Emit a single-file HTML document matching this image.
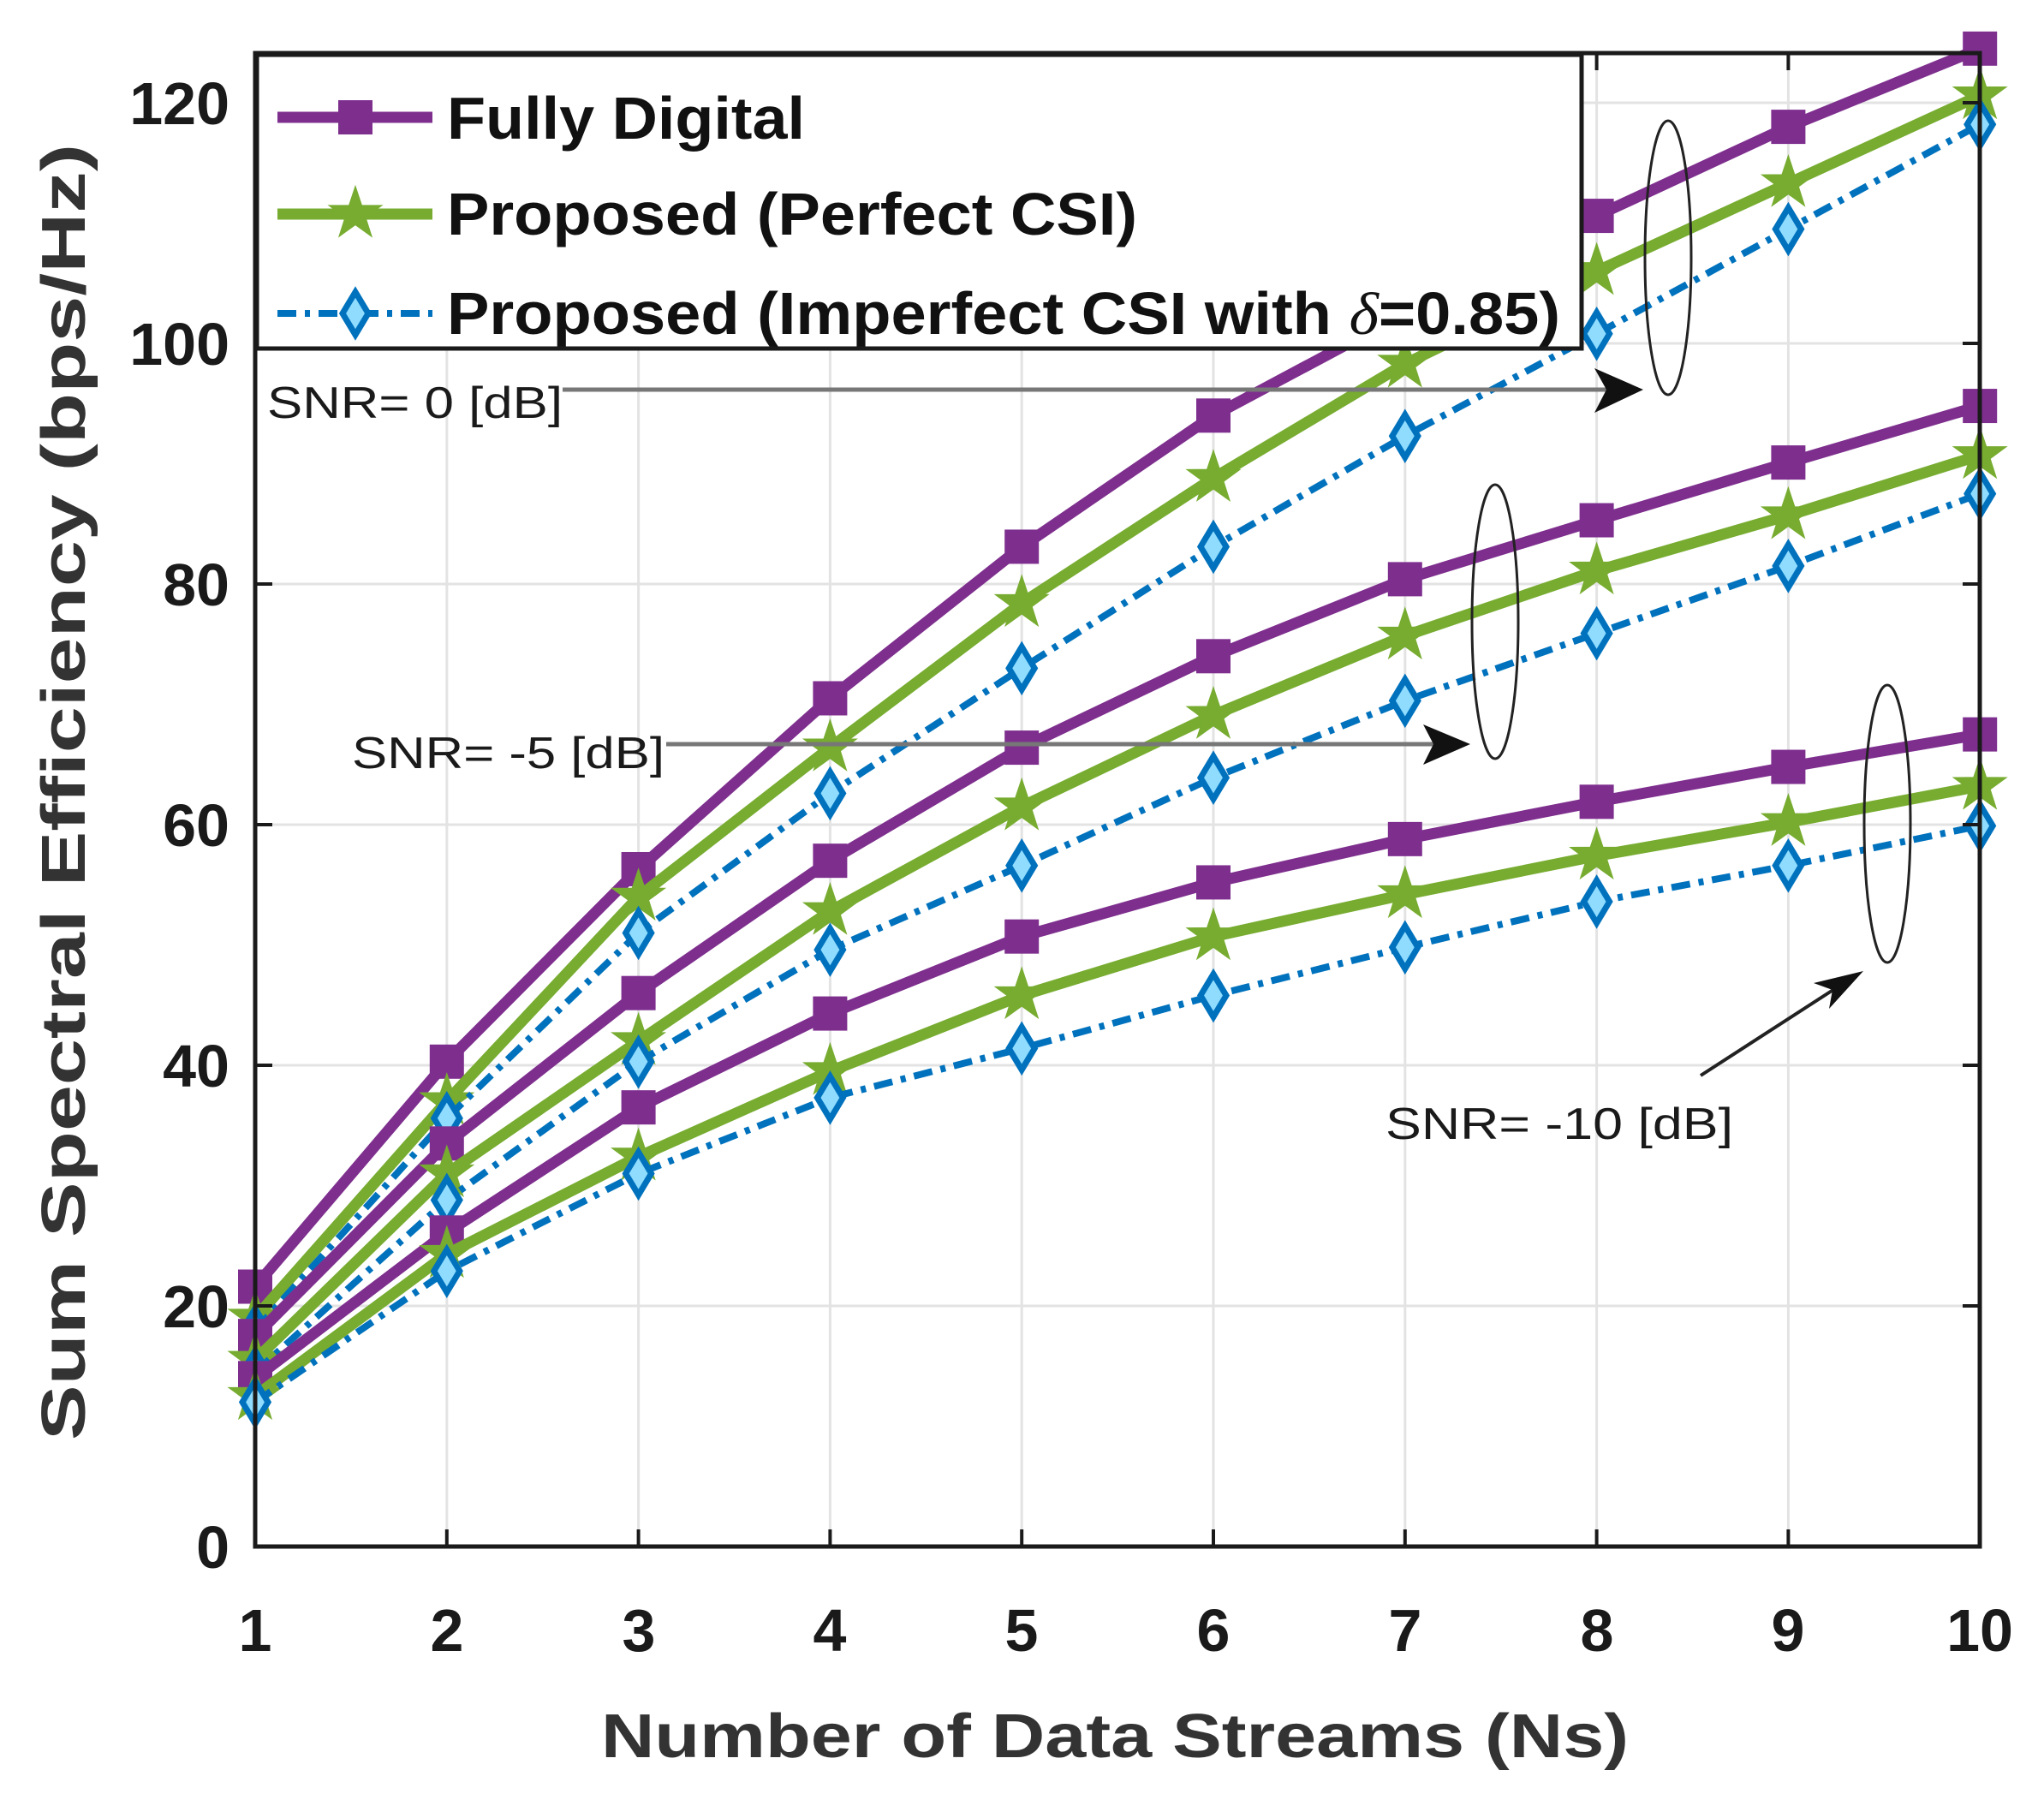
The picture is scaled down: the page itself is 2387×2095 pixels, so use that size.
<!DOCTYPE html>
<html><head><meta charset="utf-8"><style>html,body{margin:0;padding:0;background:#fff}svg{display:block}</style></head>
<body>
<svg id="s" width="2387" height="2095" viewBox="0 0 2387 2095" xmlns="http://www.w3.org/2000/svg">
<rect width="2387" height="2095" fill="#fff"/>
<g id="grid" stroke="#e3e3e3" stroke-width="3"></g>
<g id="series"></g>
<rect x="298" y="62" width="2014" height="1744" fill="none" stroke="#1a1a1a" stroke-width="5"/>
<g id="ticks" stroke="#1a1a1a" stroke-width="4"></g>
<g font-family="'Liberation Sans', sans-serif" font-weight="bold" font-size="70" fill="#1a1a1a" text-anchor="end">
<text x="268" y="1831">0</text>
<text x="268" y="1550">20</text>
<text x="268" y="1269">40</text>
<text x="268" y="988">60</text>
<text x="268" y="707">80</text>
<text x="268" y="426">100</text>
<text x="268" y="145">120</text>
</g>
<g font-family="'Liberation Sans', sans-serif" font-weight="bold" font-size="70" fill="#1a1a1a" text-anchor="middle">
<text x="298" y="1928">1</text>
<text x="522" y="1928">2</text>
<text x="746" y="1928">3</text>
<text x="969" y="1928">4</text>
<text x="1193" y="1928">5</text>
<text x="1417" y="1928">6</text>
<text x="1641" y="1928">7</text>
<text x="1865" y="1928">8</text>
<text x="2088" y="1928">9</text>
<text x="2312" y="1928">10</text>
</g>
<text x="1302" y="2052" font-family="'Liberation Sans', sans-serif" font-weight="bold" font-size="72" fill="#333" text-anchor="middle" textLength="1200" lengthAdjust="spacingAndGlyphs">Number of Data Streams (Ns)</text>
<text transform="translate(99,925) rotate(-90)" x="0" y="0" font-family="'Liberation Sans', sans-serif" font-weight="bold" font-size="72" fill="#333" text-anchor="middle" textLength="1514" lengthAdjust="spacingAndGlyphs">Sum Spectral Efficiency (bps/Hz)</text>

<g font-family="'Liberation Sans', sans-serif" font-size="52" fill="#1a1a1a">
<text x="312" y="488" textLength="345" lengthAdjust="spacingAndGlyphs">SNR= 0 [dB]</text>
<text x="411" y="897" textLength="365" lengthAdjust="spacingAndGlyphs">SNR= -5 [dB]</text>
<text x="1618" y="1330" textLength="406" lengthAdjust="spacingAndGlyphs">SNR= -10 [dB]</text>
</g>
<g stroke="#777" stroke-width="5">
<line x1="657" y1="455" x2="1880" y2="455"/>
<line x1="778" y1="869" x2="1685" y2="869"/>
</g>
<line x1="1986" y1="1256" x2="2150" y2="1150" stroke="#222" stroke-width="4"/>
<g fill="#111">
<polygon points="1919,455 1862,430 1876,455 1862,482"/>
<polygon points="1717,869 1662,846 1674,869 1662,893"/>
<polygon points="2176,1134 2118,1148 2140,1156 2136,1178"/>
</g>
<g fill="none" stroke="#222" stroke-width="3">
<ellipse cx="1948" cy="301" rx="27" ry="160"/>
<ellipse cx="1746" cy="726" rx="27" ry="160"/>
<ellipse cx="2204" cy="962" rx="27" ry="162"/>
</g>

<rect x="300" y="64" width="1547" height="343" fill="#fff" stroke="#1a1a1a" stroke-width="5"/>
<g id="leg"></g>
<g font-family="'Liberation Sans', sans-serif" font-weight="bold" font-size="70" fill="#111">
<text x="522" y="162" textLength="418" lengthAdjust="spacingAndGlyphs">Fully Digital</text>
<text x="522" y="274" textLength="806" lengthAdjust="spacingAndGlyphs">Proposed (Perfect CSI)</text>
<text x="522" y="390" textLength="1300" lengthAdjust="spacingAndGlyphs">Proposed (Imperfect CSI with <tspan font-family="'Liberation Serif', serif" font-style="italic" font-weight="normal">δ</tspan>=0.85)</text>
</g>
</svg>
<script>
const NS="http://www.w3.org/2000/svg";
const X=x=>298+(x-1)*223.8, Y=y=>1806-y*14.05;
function el(t,a,p){const e=document.createElementNS(NS,t);for(const k in a)e.setAttribute(k,a[k]);p.appendChild(e);return e;}
const grid=document.getElementById('grid'),ticks=document.getElementById('ticks');
for(let i=2;i<=9;i++){el('line',{x1:X(i),y1:62,x2:X(i),y2:1806},grid);el('line',{x1:X(i),y1:1806,x2:X(i),y2:1786},ticks);el('line',{x1:X(i),y1:62,x2:X(i),y2:82},ticks);}
for(let v=20;v<=120;v+=20){el('line',{x1:298,y1:Y(v),x2:2312,y2:Y(v)},grid);el('line',{x1:298,y1:Y(v),x2:318,y2:Y(v)},ticks);el('line',{x1:2312,y1:Y(v),x2:2292,y2:Y(v)},ticks);}
const PUR="#7E2F8E",GRN="#77AC30",BLU="#0072BD";
const data=[
 [[21.6,40.3,56.3,70.5,83.1,94,102.5,110.6,118,124.5],[19,37,54,66.4,78.4,88.8,98.3,106,113.3,120.6],[18,35.6,51,62.6,73,83.1,92.3,100.8,109.5,118.2]],
 [[17.5,33.5,46,57,66.4,74,80.4,85.3,90.1,94.8],[15.5,31,42,52.8,61.5,69.1,75.7,81.1,85.7,90.7],[14.5,28.8,40.3,49.6,56.6,63.9,70.3,75.9,81.5,87.5]],
 [[14,26.1,36.5,44.3,50.7,55.2,58.8,61.9,64.8,67.5],[12.5,24.3,32.4,39.5,45.8,50.7,54.2,57.4,60.2,63.2],[12,22.9,31,37.3,41.4,45.8,49.8,53.6,56.6,59.9]]];
const S=document.getElementById('series');
function sq(x,y,p){el('rect',{x:x-19,y:y-19,width:38,height:38,fill:PUR,stroke:PUR,'stroke-width':2},p);}
function star(x,y,p){let pts=[];for(let i=0;i<10;i++){const r=i%2?12:31,a=-Math.PI/2+i*Math.PI/5;pts.push((x+r*Math.cos(a)).toFixed(1)+','+(y+r*Math.sin(a)).toFixed(1));}el('polygon',{points:pts.join(' '),fill:GRN,stroke:GRN,'stroke-width':2},p);}
function dia(x,y,p){el('polygon',{points:`${x},${y-25} ${x+15},${y} ${x},${y+25} ${x-15},${y}`,fill:"#8fdcff",stroke:BLU,'stroke-width':7},p);}
function line(vals,col,w,dash,p){el('polyline',{points:vals.map((v,i)=>X(i+1)+','+Y(v)).join(' '),fill:'none',stroke:col,'stroke-width':w,'stroke-dasharray':dash||'none','stroke-linejoin':'round'},p);}
for(const g of data){
 line(g[0],PUR,13,null,S);g[0].forEach((v,i)=>sq(X(i+1),Y(v),S));
 line(g[1],GRN,13,null,S);g[1].forEach((v,i)=>star(X(i+1),Y(v),S));
 line(g[2],BLU,8,'22 10 6 10',S);g[2].forEach((v,i)=>dia(X(i+1),Y(v),S));
}
const L=document.getElementById('leg');
el('line',{x1:324,y1:137,x2:505,y2:137,stroke:PUR,'stroke-width':13},L);sq(415,137,L);
el('line',{x1:324,y1:250,x2:505,y2:250,stroke:GRN,'stroke-width':13},L);star(415,250,L);
el('line',{x1:324,y1:366,x2:505,y2:366,stroke:BLU,'stroke-width':8,'stroke-dasharray':'22 10 6 10'},L);dia(415,366,L);
</script>
</body></html>
